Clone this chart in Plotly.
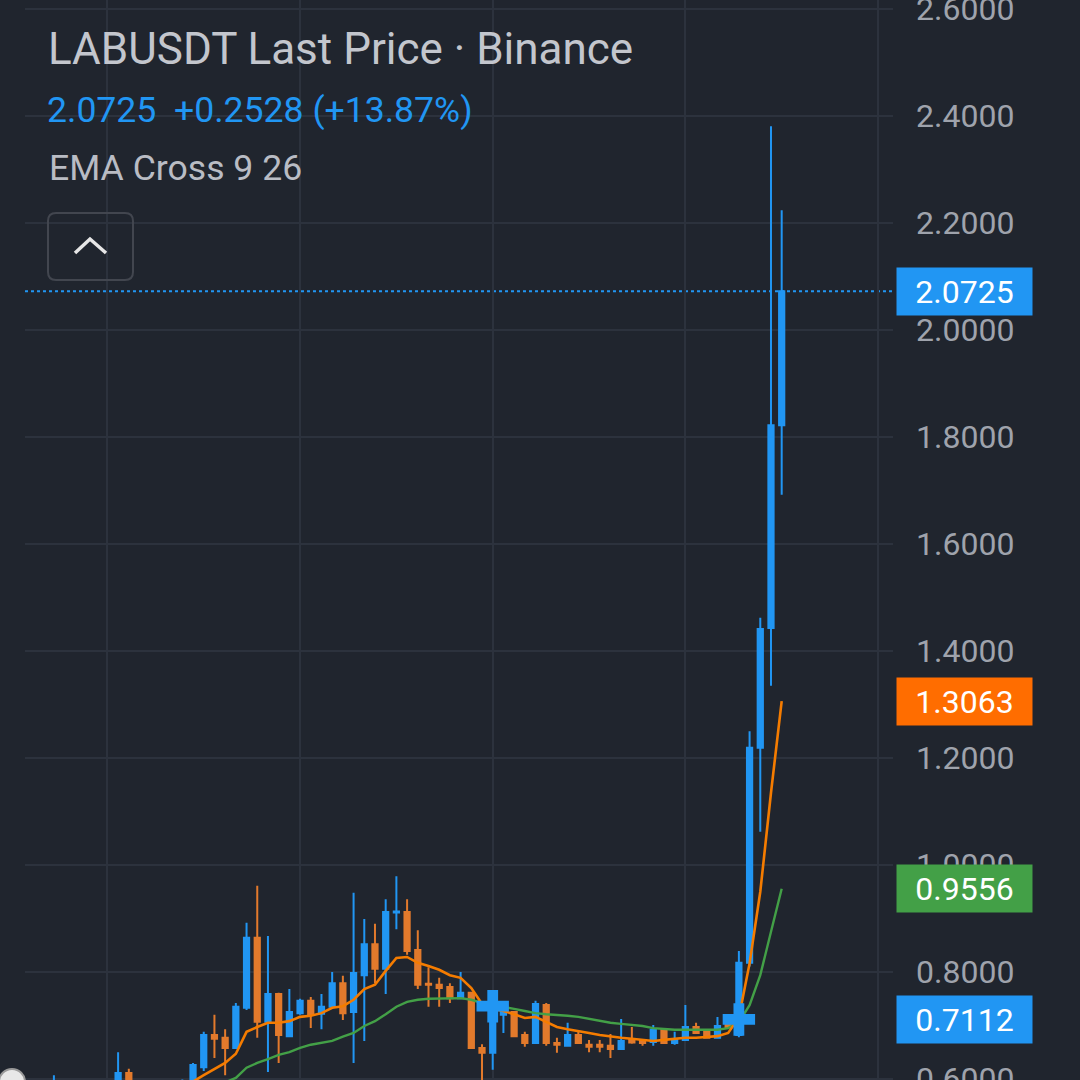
import plotly.graph_objects as go

# candles (index 0 = left-most visible bar)
opens = [0.570, 0.585, 0.568, 0.575, 0.565, 0.572, 0.585, 0.611, 0.580, 0.570,
         0.582, 0.575, 0.585, 0.590, 0.622, 0.682, 0.677, 0.658, 0.733, 0.864,
         0.707, 0.759, 0.680, 0.723, 0.746, 0.722, 0.735, 0.779, 0.725, 0.794,
         0.852, 0.806, 0.911, 0.912, 0.841, 0.778, 0.776, 0.772, 0.751, 0.761,
         0.658, 0.649, 0.720, 0.725, 0.682, 0.667, 0.738, 0.667, 0.662, 0.682,
         0.664, 0.664, 0.662, 0.656, 0.673, 0.672, 0.669, 0.692, 0.667, 0.673,
         0.697, 0.688, 0.677, 0.701, 0.682, 0.817, 1.219, 1.443, 1.822]
highs = [0.607, 0.592, 0.585, 0.590, 0.580, 0.594, 0.650, 0.619, 0.592, 0.588,
         0.594, 0.590, 0.599, 0.630, 0.688, 0.720, 0.693, 0.742, 0.892, 0.961,
         0.867, 0.761, 0.768, 0.750, 0.753, 0.759, 0.800, 0.793, 0.948, 0.899,
         0.890, 0.936, 0.979, 0.936, 0.878, 0.809, 0.789, 0.779, 0.800, 0.762,
         0.665, 0.763, 0.745, 0.727, 0.688, 0.746, 0.742, 0.677, 0.705, 0.688,
         0.673, 0.673, 0.684, 0.712, 0.697, 0.674, 0.701, 0.694, 0.688, 0.738,
         0.705, 0.690, 0.716, 0.716, 0.839, 1.250, 1.462, 2.381, 2.224]
lows = [0.560, 0.560, 0.555, 0.560, 0.550, 0.565, 0.575, 0.570, 0.565, 0.560,
        0.570, 0.568, 0.575, 0.585, 0.615, 0.639, 0.607, 0.656, 0.729, 0.677,
        0.613, 0.630, 0.678, 0.720, 0.695, 0.693, 0.733, 0.710, 0.630, 0.671,
        0.779, 0.759, 0.880, 0.832, 0.768, 0.735, 0.735, 0.742, 0.749, 0.657,
        0.580, 0.617, 0.686, 0.679, 0.660, 0.666, 0.662, 0.649, 0.661, 0.666,
        0.650, 0.650, 0.639, 0.655, 0.666, 0.662, 0.662, 0.666, 0.664, 0.672,
        0.685, 0.675, 0.676, 0.695, 0.678, 0.810, 1.062, 1.335, 1.692]
closes = [0.590, 0.568, 0.575, 0.565, 0.572, 0.585, 0.611, 0.580, 0.570, 0.582,
          0.575, 0.585, 0.592, 0.626, 0.682, 0.675, 0.658, 0.735, 0.864, 0.707,
          0.759, 0.682, 0.725, 0.746, 0.720, 0.735, 0.779, 0.723, 0.798, 0.852,
          0.806, 0.912, 0.913, 0.839, 0.776, 0.776, 0.770, 0.751, 0.761, 0.658,
          0.649, 0.755, 0.738, 0.680, 0.667, 0.740, 0.667, 0.664, 0.682, 0.667,
          0.660, 0.660, 0.656, 0.671, 0.668, 0.667, 0.692, 0.667, 0.673, 0.697,
          0.686, 0.677, 0.699, 0.697, 0.817, 1.219, 1.441, 1.822, 2.0725]

# EMA lines as drawn on the chart
ema9 = [None] * 11 + [
    0.575, 0.585, 0.595, 0.607, 0.619, 0.630, 0.647, 0.688, 0.697, 0.705,
    0.705, 0.708, 0.716, 0.718, 0.723, 0.733, 0.736, 0.748, 0.768, 0.776,
    0.802, 0.826, 0.828, 0.817, 0.811, 0.804, 0.794, 0.789, 0.770, 0.740,
    0.731, 0.727, 0.721, 0.714, 0.716, 0.706, 0.697, 0.693, 0.690, 0.686,
    0.682, 0.679, 0.677, 0.675, 0.673, 0.671, 0.673, 0.675, 0.677, 0.677,
    0.678, 0.680, 0.686, 0.715, 0.816, 0.950, 1.135, 1.3063]
ema26 = [None] * 15 + [
    0.585, 0.594, 0.602, 0.621, 0.630, 0.637, 0.645, 0.650, 0.658, 0.664,
    0.667, 0.671, 0.679, 0.686, 0.699, 0.708, 0.721, 0.735, 0.744, 0.748,
    0.750, 0.750, 0.751, 0.751, 0.748, 0.742, 0.738, 0.735, 0.731, 0.727,
    0.723, 0.721, 0.720, 0.718, 0.716, 0.712, 0.708, 0.705, 0.703, 0.701,
    0.699, 0.695, 0.693, 0.692, 0.692, 0.692, 0.692, 0.692, 0.695, 0.706,
    0.738, 0.794, 0.875, 0.9556]

bars = list(range(len(closes)))

# order markers (blue crosses)
mark_x = [41, 64]
mark_y = [0.736, 0.7112]

last_price = 2.0725
tags = [(2.0725, '#2196f3'), (1.3063, '#ff6d00'), (0.9556, '#43a047'), (0.7112, '#2196f3')]

BG = '#20252e'
GRID = '#2c323d'
BLUE = '#2196f3'
ORANGE = '#e27a2c'
FONT = 'Roboto'

# plot area in pixels: x 25..893, y 0..1080
L, R = 25, 893


def px(x):
    return (x - L) / (R - L)


def py(y):
    return 1 - y / 1080


fig = go.Figure()

fig.add_trace(go.Candlestick(
    x=bars, open=opens, high=highs, low=lows, close=closes,
    increasing=dict(line=dict(color=BLUE, width=2), fillcolor=BLUE),
    decreasing=dict(line=dict(color=ORANGE, width=2), fillcolor=ORANGE),
    hoverinfo='skip', showlegend=False
))
fig.add_trace(go.Scatter(x=bars, y=ema26, mode='lines',
                         line=dict(color='#43a047', width=2.4),
                         hoverinfo='skip', showlegend=False))
fig.add_trace(go.Scatter(x=bars, y=ema9, mode='lines',
                         line=dict(color='#f57c00', width=2.6),
                         hoverinfo='skip', showlegend=False))
fig.add_trace(go.Scatter(x=mark_x, y=mark_y, mode='markers',
                         marker=dict(symbol='cross', size=27, color=BLUE,
                                     line=dict(width=0)),
                         hoverinfo='skip', showlegend=False))

shapes = [
    dict(type='line', xref='paper', yref='y', x0=0, x1=1, y0=last_price, y1=last_price,
         line=dict(color=BLUE, width=1.8, dash='dot'), layer='below'),
]

# collapse button (rounded box + chevron)
bx0, by0, bx1, by1, r = 48, 213, 133, 280, 8
box_path = (f'M {px(bx0 + r)},{py(by0)} L {px(bx1 - r)},{py(by0)} '
            f'Q {px(bx1)},{py(by0)} {px(bx1)},{py(by0 + r)} L {px(bx1)},{py(by1 - r)} '
            f'Q {px(bx1)},{py(by1)} {px(bx1 - r)},{py(by1)} L {px(bx0 + r)},{py(by1)} '
            f'Q {px(bx0)},{py(by1)} {px(bx0)},{py(by1 - r)} L {px(bx0)},{py(by0 + r)} '
            f'Q {px(bx0)},{py(by0)} {px(bx0 + r)},{py(by0)} Z')
shapes.append(dict(type='path', xref='paper', yref='paper', path=box_path,
                   line=dict(color='#42464f', width=2), fillcolor='rgba(0,0,0,0)'))
chev = f'M {px(75)},{py(253)} L {px(90)},{py(239)} L {px(106)},{py(253)}'
shapes.append(dict(type='path', xref='paper', yref='paper', path=chev,
                   line=dict(color='#e6e6e6', width=3.5)))

# round handle at bottom-left
shapes.append(dict(type='circle', xref='paper', yref='paper',
                   x0=px(-1), x1=px(25), y0=py(1069), y1=py(1095),
                   fillcolor='#e8e8e8', line=dict(color='#9a9a9a', width=2)))

annotations = [
    dict(text='LABUSDT Last Price · Binance', x=px(46), y=py(49), xref='paper', yref='paper',
         xanchor='left', yanchor='middle', showarrow=False,
         font=dict(family=FONT, size=44, color='#c3c6cd')),
    dict(text='2.0725\u00a0\u00a0+0.2528 (+13.87%)', x=px(45), y=py(110), xref='paper', yref='paper',
         xanchor='left', yanchor='middle', showarrow=False,
         font=dict(family=FONT, size=35.6, color=BLUE)),
    dict(text='EMA Cross 9\u00a026', x=px(47), y=py(168), xref='paper', yref='paper',
         xanchor='left', yanchor='middle', showarrow=False,
         font=dict(family=FONT, size=35.6, color='#b9bcc4')),
]
for val, col in tags:
    annotations.append(dict(
        text=f'{val:.4f}', x=1, xref='paper', y=val, yref='y',
        xanchor='left', yanchor='middle', xshift=3, showarrow=False,
        bgcolor=col, width=129, height=41, borderpad=3, align='center',
        font=dict(family=FONT, size=32, color='#ffffff')))

fig.update_layout(
    width=1080, height=1080,
    paper_bgcolor=BG, plot_bgcolor=BG,
    margin=dict(l=L, r=1080 - R, t=0, b=0, autoexpand=False),
    showlegend=False,
    shapes=shapes,
    annotations=annotations,
    xaxis=dict(range=[-2.7, 78.4], rangeslider=dict(visible=False),
               tickvals=[5, 23, 41, 59, 77], showticklabels=False,
               showgrid=True, gridcolor=GRID, gridwidth=1.5, zeroline=False,
               showline=False, fixedrange=True, automargin=False),
    yaxis=dict(range=[0.598, 2.617], side='right', tick0=0, dtick=0.2,
               tickformat='.4f', showgrid=True, gridcolor=GRID, gridwidth=1.5,
               zeroline=False, showline=False, ticks='', automargin=False,
               ticklabelstandoff=22, ticklabeloverflow='allow',
               tickfont=dict(family=FONT, size=32, color='#9fa3ac'),
               fixedrange=True),
)

fig.write_html('out.html', config={'displayModeBar': False},
               post_script="document.body.style.margin='0';document.body.style.background='#20252e';")
